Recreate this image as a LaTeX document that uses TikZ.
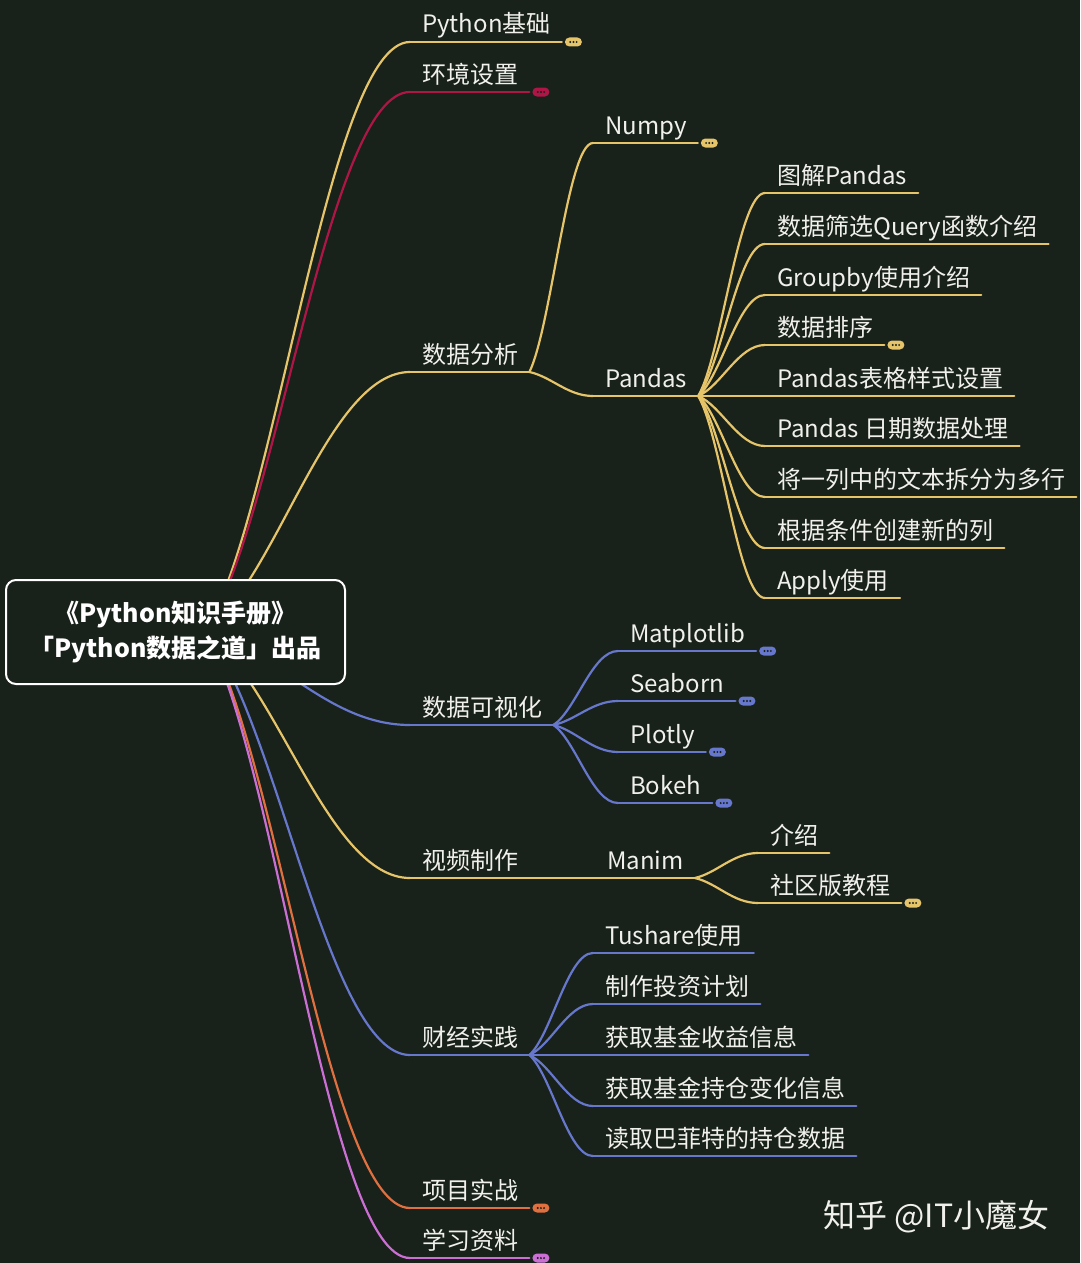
\documentclass[tikz,border=0pt]{standalone}
\usepackage{fontspec}
\setmainfont{Noto Sans CJK SC}
\usetikzlibrary{calc}
\definecolor{bg}{HTML}{18211A}
\definecolor{cy}{HTML}{E5C46A}
\definecolor{cr}{HTML}{B01548}
\definecolor{cb}{HTML}{6677CC}
\definecolor{co}{HTML}{E07040}
\definecolor{cp}{HTML}{CC6FD4}
\definecolor{tx}{HTML}{F0F0EC}
\tikzset{
  conn/.style={line width=2.2pt, line cap=round},
  topic/.style={text=tx, font=\fontsize{24}{28}\selectfont, inner sep=0pt},
  rootbox/.style={draw=white, line width=2pt, rounded corners=10pt, fill=bg,
    minimum width=339pt, minimum height=104pt, align=center, text=white,
    font=\bfseries\fontsize{25}{35}\selectfont},
  mark text/.style={text=tx, font=\fontsize{32}{32}\selectfont, inner sep=0pt}
}
% curve: cubic, controls at (S + 0.35dx, S + 0.2dy) and (S + 0.6dx, Ey)
\newcommand\mmcurve[3]{%
  \coordinate (mmP) at ($(#2)!0.35!(#3)$);
  \coordinate (mmQ) at ($(#2)!0.2!(#3)$);
  \coordinate (mmR) at ($(#2)!0.6!(#3)$);
  \draw[conn,#1] (#2) .. controls (mmP |- mmQ) and (mmR |- #3) .. (#3);}
\newcommand\mmtopic[5]{%
  \coordinate (#1-s) at (#3,#4);
  \node[topic, anchor=base west] (#1) at ($(#1-s)+(12,-9)$) {#5};
  \coordinate (#1-e) at ($(#1.east |- #1-s)+(11,0)$);
  \draw[conn,#2] (#1-s) -- (#1-e);}
\newcommand\mmbadge[2]{%
  \fill[#2, rounded corners=4.5pt] ($(#1-e)+(3,-4.5)$) rectangle ($(#1-e)+(20,4.5)$);
  \foreach \dd in {8.3,11.5,14.7} \fill[bg] ($(#1-e)+(\dd,0)$) circle (1.1pt);}
\begin{document}
\begin{tikzpicture}[x=1pt,y=-1pt]
\fill[bg] (0,0) rectangle (1080,1263);
\useasboundingbox (0,0) rectangle (1080,1263);
\coordinate (o) at (205,632);
% level 1
\mmtopic{a}{cy}{410}{42}{Python基础}
\mmtopic{b}{cr}{410}{92}{环境设置}
\mmtopic{c}{cy}{410}{372}{数据分析}
\mmtopic{d}{cb}{410}{725}{数据可视化}
\mmtopic{e}{cy}{410}{878}{视频制作}
\mmtopic{f}{cb}{410}{1055}{财经实践}
\mmtopic{g}{co}{410}{1208}{项目实战}
\mmtopic{h}{cp}{410}{1258}{学习资料}
\mmbadge{a}{cy}
\mmbadge{b}{cr}
\mmbadge{g}{co}
\mmbadge{h}{cp}
\mmcurve{cy}{o}{a-s}
\mmcurve{cr}{o}{b-s}
\mmcurve{cy}{o}{c-s}
\mmcurve{cb}{o}{d-s}
\mmcurve{cy}{o}{e-s}
\mmcurve{cb}{o}{f-s}
\mmcurve{co}{o}{g-s}
\mmcurve{cp}{o}{h-s}
\node[rootbox] (root) at (175.5,632) {《Python知识手册》\\「Python数据之道」出品};
% 数据分析
\mmtopic{c1}{cy}{593}{143}{Numpy}
\mmtopic{c2}{cy}{593}{396}{Pandas}
\mmbadge{c1}{cy}
\mmcurve{cy}{c-e}{c1-s}
\mmcurve{cy}{c-e}{c2-s}
\mmtopic{p1}{cy}{765}{193}{图解Pandas}
\mmtopic{p2}{cy}{765}{244}{数据筛选Query函数介绍}
\mmtopic{p3}{cy}{765}{295}{Groupby使用介绍}
\mmtopic{p4}{cy}{765}{345}{数据排序}
\mmtopic{p5}{cy}{765}{396}{Pandas表格样式设置}
\mmtopic{p6}{cy}{765}{446}{Pandas 日期数据处理}
\mmtopic{p7}{cy}{765}{497}{将一列中的文本拆分为多行}
\mmtopic{p8}{cy}{765}{548}{根据条件创建新的列}
\mmtopic{p9}{cy}{765}{598}{Apply使用}
\mmbadge{p4}{cy}
\foreach \k in {1,...,9} {\mmcurve{cy}{c2-e}{p\k-s}}
% 数据可视化
\mmtopic{d1}{cb}{618}{651}{Matplotlib}
\mmtopic{d2}{cb}{618}{701}{Seaborn}
\mmtopic{d3}{cb}{618}{752}{Plotly}
\mmtopic{d4}{cb}{618}{803}{Bokeh}
\foreach \k in {1,...,4} {\mmbadge{d\k}{cb}\mmcurve{cb}{d-e}{d\k-s}}
% 视频制作
\mmtopic{e1}{cy}{595}{878}{Manim}
\draw[conn,cy] (e-e) -- (e1-s);
\mmtopic{e11}{cy}{758}{853}{介绍}
\mmtopic{e12}{cy}{758}{903}{社区版教程}
\mmbadge{e12}{cy}
\mmcurve{cy}{e1-e}{e11-s}
\mmcurve{cy}{e1-e}{e12-s}
% 财经实践
\mmtopic{f1}{cb}{593}{953}{Tushare使用}
\mmtopic{f2}{cb}{593}{1004}{制作投资计划}
\mmtopic{f3}{cb}{593}{1055}{获取基金收益信息}
\mmtopic{f4}{cb}{593}{1106}{获取基金持仓变化信息}
\mmtopic{f5}{cb}{593}{1156}{读取巴菲特的持仓数据}
\foreach \k in {1,...,5} {\mmcurve{cb}{f-e}{f\k-s}}
% watermark
\node[mark text, anchor=west] (wm) at (823,1217) {知乎 @IT小魔女};
\end{tikzpicture}
\end{document}
